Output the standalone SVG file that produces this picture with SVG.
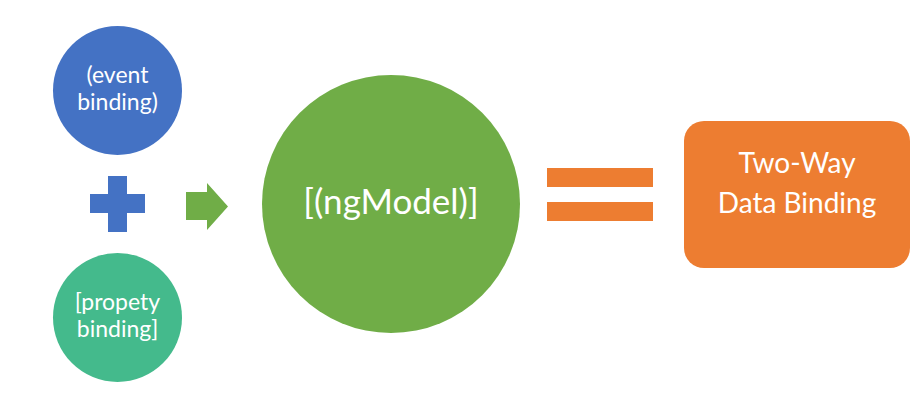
<svg xmlns="http://www.w3.org/2000/svg" width="920" height="404" viewBox="0 0 920 404">
<style>
text{font-family:Lato,"Open Sans",sans-serif;fill:#fff;text-anchor:middle}
.s{font-size:23px}
.b{font-size:28px}
</style>
<rect width="920" height="404" fill="#fff"/>
<g id="event">
<circle cx="117.5" cy="90.5" r="64.5" fill="#4472C4"/>
<text class="s" x="117.5" y="83">(event</text>
<text class="s" x="117.5" y="110">binding)</text>
</g>
<g id="plus">
<rect x="108" y="176" width="19" height="56" fill="#4472C4"/>
<rect x="90" y="194" width="55" height="19" fill="#4472C4"/>
</g>
<g id="property">
<circle cx="117.5" cy="317.5" r="64.5" fill="#44BA8C"/>
<text class="s" x="117.5" y="310">[propety</text>
<text class="s" x="117.5" y="337">binding]</text>
</g>
<g id="connectors">
<polygon points="186,192 207,192 207,183 228,206.5 207,230 207,220 186,220" fill="#70AD47"/>
<rect x="547" y="168" width="106" height="19" fill="#ED7D31"/>
<rect x="547" y="202" width="106" height="19" fill="#ED7D31"/>
</g>
<g id="ngmodel">
<circle cx="391" cy="204" r="129" fill="#70AD47"/>
<text x="391" y="214" style="font-size:35px">[(ngModel)]</text>
</g>
<g id="twoway">
<rect x="684" y="121" width="226" height="147" rx="20" fill="#ED7D31"/>
<text class="b" x="797" y="173">Two-Way</text>
<text class="b" x="797" y="213">Data Binding</text>
</g>
</svg>
